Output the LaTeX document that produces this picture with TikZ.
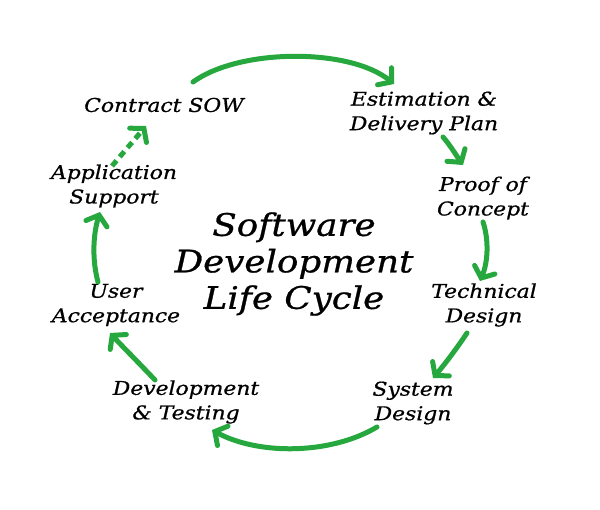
\documentclass[tikz,border=0pt]{standalone}
\usepackage{fontspec}
\setmainfont{DejaVu Serif}[FakeStretch=1.15,FakeBold=0.8]
\usetikzlibrary{arrows.meta}
\definecolor{cyclegreen}{RGB}{38,168,62}
\tikzset{
  lbl/.style={align=center, font=\itshape\fontsize{19}{24.5}\selectfont, inner sep=0pt},
  ttl/.style={align=center, font=\itshape\fontsize{31}{36.5}\selectfont, inner sep=0pt},
  cyc/.style={draw=cyclegreen, line width=5pt, line cap=round,
    -{Straight Barb[length=9pt,width=22pt,line cap=round]}},
  dsh/.style={cyc, line cap=butt, dash pattern=on 7pt off 5pt}
}
\begin{document}
\begin{tikzpicture}[x=1pt,y=-1pt]
\useasboundingbox (0,0) rectangle (600,510);
\fill[white] (0,0) rectangle (600,510);
\node[lbl] (sow) at (164,105) {Contract SOW};
\node[lbl] (est) at (424,113) {Estimation \&\\Delivery Plan};
\node[lbl] (poc) at (483,198) {Proof of\\Concept};
\node[lbl] (tec) at (484,305) {Technical\\Design};
\node[lbl] (sys) at (413,403) {System\\Design};
\node[lbl] (dev) at (186,402) {Development\\\& Testing};
\node[lbl] (usr) at (116,305) {User\\Acceptance};
\node[lbl] (app) at (114,186) {Application\\Support};
\node[ttl] (title) at (294,264) {Software\\Development\\Life Cycle};
\coordinate (s1) at (193,82);   \coordinate (e1) at (394,84);
\coordinate (s2) at (443,137);  \coordinate (e2) at (463,165);
\coordinate (s3) at (483,222);  \coordinate (e3) at (480,281);
\coordinate (s4) at (467,333);  \coordinate (e4) at (433,378);
\coordinate (s5) at (377,427);  \coordinate (e5) at (212,430);
\coordinate (s6) at (155,380);  \coordinate (e6) at (110,333);
\coordinate (s7) at (98,282);   \coordinate (e7) at (100,212);
\coordinate (s8) at (112,166);  \coordinate (e8) at (146,126);
\draw[cyc] (s1) .. controls (240,48) and (350,48) .. (e1);
\draw[cyc] (s2) .. controls (450,145) and (456,155) .. (e2);
\draw[cyc] (s3) .. controls (489,240) and (488,262) .. (e3);
\draw[cyc] (s4) .. controls (457,348) and (445,364) .. (e4);
\draw[cyc] (s5) .. controls (330,455) and (258,455) .. (e5);
\draw[cyc] (s6) .. controls (138,362) and (122,346) .. (e6);
\draw[cyc] (s7) .. controls (92,260) and (93,235) .. (e7);
\draw[dsh] (s8) -- (e8);
\end{tikzpicture}
\end{document}
